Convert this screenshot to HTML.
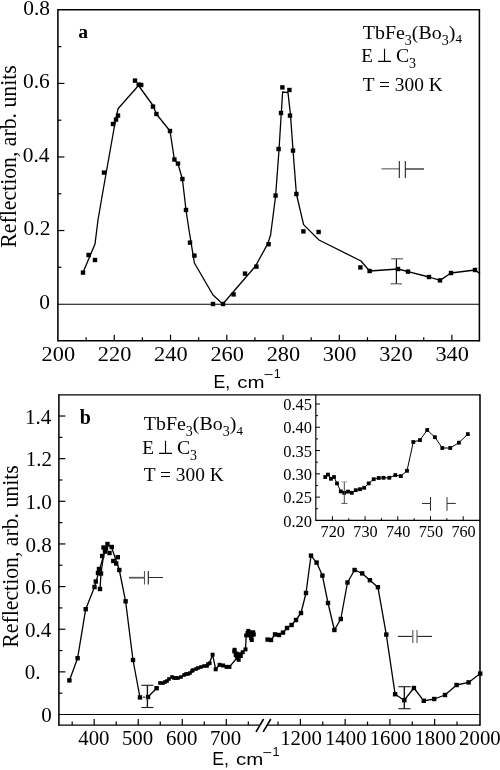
<!DOCTYPE html>
<html><head><meta charset="utf-8"><title>Reflection spectra TbFe3(BO3)4</title>
<style>
html,body{margin:0;padding:0;background:#fff;}
body{width:500px;height:770px;overflow:hidden;}
svg{display:block;}
text{fill:#000;}
</style></head><body>
<svg width="500" height="770" viewBox="0 0 500 770">
<rect x="0" y="0" width="500" height="770" fill="#fff"/>
<line x1="57.90" y1="9.10" x2="57.90" y2="341.40" stroke="#000" stroke-width="1.55"/>
<line x1="479.40" y1="9.10" x2="479.40" y2="341.40" stroke="#000" stroke-width="1.55"/>
<line x1="57.90" y1="9.80" x2="479.40" y2="9.80" stroke="#000" stroke-width="1.4"/>
<line x1="57.90" y1="340.70" x2="479.40" y2="340.70" stroke="#000" stroke-width="1.4"/>
<line x1="57.90" y1="304.30" x2="479.40" y2="304.30" stroke="#000" stroke-width="1.1"/>
<line x1="57.90" y1="267.32" x2="61.40" y2="267.32" stroke="#000" stroke-width="1.2"/>
<line x1="57.90" y1="230.54" x2="64.40" y2="230.54" stroke="#000" stroke-width="1.2"/>
<line x1="57.90" y1="193.76" x2="61.40" y2="193.76" stroke="#000" stroke-width="1.2"/>
<line x1="57.90" y1="156.98" x2="64.40" y2="156.98" stroke="#000" stroke-width="1.2"/>
<line x1="57.90" y1="120.20" x2="61.40" y2="120.20" stroke="#000" stroke-width="1.2"/>
<line x1="57.90" y1="83.42" x2="64.40" y2="83.42" stroke="#000" stroke-width="1.2"/>
<line x1="57.90" y1="46.64" x2="61.40" y2="46.64" stroke="#000" stroke-width="1.2"/>
<line x1="86.13" y1="340.70" x2="86.13" y2="337.20" stroke="#000" stroke-width="1.2"/>
<line x1="114.27" y1="340.70" x2="114.27" y2="334.70" stroke="#000" stroke-width="1.2"/>
<line x1="142.40" y1="340.70" x2="142.40" y2="337.20" stroke="#000" stroke-width="1.2"/>
<line x1="170.53" y1="340.70" x2="170.53" y2="334.70" stroke="#000" stroke-width="1.2"/>
<line x1="198.66" y1="340.70" x2="198.66" y2="337.20" stroke="#000" stroke-width="1.2"/>
<line x1="226.80" y1="340.70" x2="226.80" y2="334.70" stroke="#000" stroke-width="1.2"/>
<line x1="254.93" y1="340.70" x2="254.93" y2="337.20" stroke="#000" stroke-width="1.2"/>
<line x1="283.06" y1="340.70" x2="283.06" y2="334.70" stroke="#000" stroke-width="1.2"/>
<line x1="311.20" y1="340.70" x2="311.20" y2="337.20" stroke="#000" stroke-width="1.2"/>
<line x1="339.33" y1="340.70" x2="339.33" y2="334.70" stroke="#000" stroke-width="1.2"/>
<line x1="367.46" y1="340.70" x2="367.46" y2="337.20" stroke="#000" stroke-width="1.2"/>
<line x1="395.60" y1="340.70" x2="395.60" y2="334.70" stroke="#000" stroke-width="1.2"/>
<line x1="423.73" y1="340.70" x2="423.73" y2="337.20" stroke="#000" stroke-width="1.2"/>
<line x1="451.86" y1="340.70" x2="451.86" y2="334.70" stroke="#000" stroke-width="1.2"/>
<text transform="translate(23.20,14.76) scale(0.9750,1)" font-size="22.0" font-family='"Liberation Serif", serif' >0.8</text>
<text transform="translate(23.03,88.32) scale(0.9750,1)" font-size="22.0" font-family='"Liberation Serif", serif' >0.6</text>
<text transform="translate(22.72,161.88) scale(0.9750,1)" font-size="22.0" font-family='"Liberation Serif", serif' >0.4</text>
<text transform="translate(23.57,235.44) scale(0.9750,1)" font-size="22.0" font-family='"Liberation Serif", serif' >0.2</text>
<text transform="translate(39.29,308.60) scale(0.9750,1)" font-size="22.0" font-family='"Liberation Serif", serif' >0</text>
<text transform="translate(41.58,360.90) scale(1.0200,1)" font-size="21.9" font-family='"Liberation Serif", serif' >200</text>
<text transform="translate(97.85,360.90) scale(1.0200,1)" font-size="21.9" font-family='"Liberation Serif", serif' >220</text>
<text transform="translate(154.11,360.90) scale(1.0200,1)" font-size="21.9" font-family='"Liberation Serif", serif' >240</text>
<text transform="translate(210.38,360.90) scale(1.0200,1)" font-size="21.9" font-family='"Liberation Serif", serif' >260</text>
<text transform="translate(266.65,360.90) scale(1.0200,1)" font-size="21.9" font-family='"Liberation Serif", serif' >280</text>
<text transform="translate(322.87,360.90) scale(1.0200,1)" font-size="21.9" font-family='"Liberation Serif", serif' >300</text>
<text transform="translate(379.13,360.90) scale(1.0200,1)" font-size="21.9" font-family='"Liberation Serif", serif' >320</text>
<text transform="translate(435.40,360.90) scale(1.0200,1)" font-size="21.9" font-family='"Liberation Serif", serif' >340</text>
<text transform="translate(78.37,38.20) scale(1.0000,1)" font-size="19.6" font-family='"Liberation Serif", serif'  font-weight="bold">a</text>
<text transform="translate(362.84,38.70) scale(1.1000,1)" font-size="18.1" font-family='"Liberation Serif", serif' >TbFe</text>
<text transform="translate(404.87,44.80) scale(1.0000,1)" font-size="14.0" font-family='"Liberation Serif", serif' >3</text>
<text transform="translate(411.87,38.70) scale(1.1000,1)" font-size="18.1" font-family='"Liberation Serif", serif' >(Bo</text>
<text transform="translate(441.73,44.80) scale(1.0000,1)" font-size="14.0" font-family='"Liberation Serif", serif' >3</text>
<text transform="translate(448.73,38.70) scale(1.1000,1)" font-size="18.1" font-family='"Liberation Serif", serif' >)</text>
<text transform="translate(455.56,43.40) scale(1.0000,1)" font-size="13.0" font-family='"Liberation Serif", serif' >4</text>
<text transform="translate(361.35,62.35) scale(1.0588,1)" font-size="18.1" font-family='"Liberation Serif", serif' >E</text>
<text transform="translate(376.43,62.35) scale(0.9697,1)" font-size="19" font-family='"Liberation Serif", "DejaVu Sans", serif' >⊥</text>
<text transform="translate(395.89,62.35) scale(1.0937,1)" font-size="18.1" font-family='"Liberation Serif", serif' >C</text>
<text transform="translate(408.89,68.45) scale(1.0000,1)" font-size="14.0" font-family='"Liberation Serif", serif' >3</text>
<text transform="translate(362.65,90.80) scale(1.0731,1)" font-size="18.1" font-family='"Liberation Serif", serif' >T = 300 K</text>
<text transform="translate(15.9,247.7) rotate(-90) scale(0.972,1)" font-size="22.4" font-family='"Liberation Serif", serif'>Reflection, arb. units</text>
<text transform="translate(213.50,387.70) scale(1.0000,1)" font-size="17.7" font-family='"Liberation Sans", sans-serif' >E,</text>
<text transform="translate(237.33,387.70) scale(1.1756,1)" font-size="17.4" font-family='"Liberation Sans", sans-serif' >cm</text>
<text transform="translate(263.49,379.10) scale(1.2987,1)" font-size="12.6" font-family='"Liberation Sans", sans-serif' >−</text>
<text transform="translate(273.84,378.40) scale(1.0000,1)" font-size="12.6" font-family='"Liberation Sans", sans-serif' >1</text>
<polyline fill="none" stroke="#000" stroke-width="1.3" stroke-linejoin="round" points="83.0,272.6 95.0,244.0 98.0,220.0 101.4,200.0 114.2,127.5 117.2,112.8 118.0,108.8 138.5,85.5 153.0,105.5 156.4,114.0 170.0,131.0 174.4,159.5 178.0,164.0 182.4,179.0 186.0,210.0 189.0,230.0 194.4,263.0 213.0,295.0 222.8,304.0 255.4,266.3 267.8,243.6 270.6,235.0 275.6,196.0 279.0,150.0 282.6,92.0 288.0,92.6 290.5,115.0 293.0,150.0 296.4,194.0 303.6,224.6 319.0,240.0 361.0,261.0 369.6,271.0 398.0,269.0 408.0,271.6 429.0,277.0 440.0,280.4 451.0,273.0 475.0,270.0 480.0,273.6"/>
<rect x="80.80" y="270.40" width="4.4" height="4.4" fill="#000"/>
<rect x="86.40" y="252.80" width="4.4" height="4.4" fill="#000"/>
<rect x="92.80" y="257.80" width="4.4" height="4.4" fill="#000"/>
<rect x="101.80" y="170.40" width="4.4" height="4.4" fill="#000"/>
<rect x="110.80" y="121.80" width="4.4" height="4.4" fill="#000"/>
<rect x="113.80" y="117.40" width="4.4" height="4.4" fill="#000"/>
<rect x="115.80" y="113.40" width="4.4" height="4.4" fill="#000"/>
<rect x="132.80" y="78.40" width="4.4" height="4.4" fill="#000"/>
<rect x="136.50" y="82.40" width="4.4" height="4.4" fill="#000"/>
<rect x="139.00" y="82.80" width="4.4" height="4.4" fill="#000"/>
<rect x="150.80" y="104.40" width="4.4" height="4.4" fill="#000"/>
<rect x="154.20" y="111.80" width="4.4" height="4.4" fill="#000"/>
<rect x="167.80" y="128.80" width="4.4" height="4.4" fill="#000"/>
<rect x="172.20" y="157.30" width="4.4" height="4.4" fill="#000"/>
<rect x="175.80" y="161.40" width="4.4" height="4.4" fill="#000"/>
<rect x="180.20" y="176.80" width="4.4" height="4.4" fill="#000"/>
<rect x="183.80" y="207.80" width="4.4" height="4.4" fill="#000"/>
<rect x="187.80" y="240.40" width="4.4" height="4.4" fill="#000"/>
<rect x="192.20" y="253.40" width="4.4" height="4.4" fill="#000"/>
<rect x="210.80" y="301.80" width="4.4" height="4.4" fill="#000"/>
<rect x="220.80" y="301.80" width="4.4" height="4.4" fill="#000"/>
<rect x="231.40" y="292.20" width="4.4" height="4.4" fill="#000"/>
<rect x="242.80" y="271.40" width="4.4" height="4.4" fill="#000"/>
<rect x="254.20" y="264.40" width="4.4" height="4.4" fill="#000"/>
<rect x="266.40" y="242.00" width="4.4" height="4.4" fill="#000"/>
<rect x="273.40" y="193.40" width="4.4" height="4.4" fill="#000"/>
<rect x="276.40" y="146.80" width="4.4" height="4.4" fill="#000"/>
<rect x="278.80" y="110.80" width="4.4" height="4.4" fill="#000"/>
<rect x="280.20" y="85.20" width="4.4" height="4.4" fill="#000"/>
<rect x="287.20" y="87.80" width="4.4" height="4.4" fill="#000"/>
<rect x="287.80" y="113.40" width="4.4" height="4.4" fill="#000"/>
<rect x="290.80" y="148.40" width="4.4" height="4.4" fill="#000"/>
<rect x="294.20" y="191.80" width="4.4" height="4.4" fill="#000"/>
<rect x="301.20" y="229.20" width="4.4" height="4.4" fill="#000"/>
<rect x="316.40" y="229.80" width="4.4" height="4.4" fill="#000"/>
<rect x="358.20" y="265.20" width="4.4" height="4.4" fill="#000"/>
<rect x="367.40" y="268.80" width="4.4" height="4.4" fill="#000"/>
<rect x="395.80" y="266.80" width="4.4" height="4.4" fill="#000"/>
<rect x="405.80" y="269.40" width="4.4" height="4.4" fill="#000"/>
<rect x="426.80" y="274.80" width="4.4" height="4.4" fill="#000"/>
<rect x="437.80" y="278.20" width="4.4" height="4.4" fill="#000"/>
<rect x="448.80" y="270.80" width="4.4" height="4.4" fill="#000"/>
<rect x="472.80" y="267.80" width="4.4" height="4.4" fill="#000"/>
<line x1="396.40" y1="258.80" x2="396.40" y2="283.80" stroke="#111" stroke-width="1.2"/>
<line x1="391.20" y1="258.80" x2="403.00" y2="258.80" stroke="#555" stroke-width="1.1"/>
<line x1="390.50" y1="283.80" x2="402.00" y2="283.80" stroke="#555" stroke-width="1.1"/>
<line x1="381.50" y1="168.80" x2="399.30" y2="168.80" stroke="#858585" stroke-width="1.5"/>
<line x1="405.30" y1="169.00" x2="424.00" y2="169.00" stroke="#505050" stroke-width="1.6"/>
<line x1="399.30" y1="161.00" x2="399.30" y2="178.00" stroke="#111" stroke-width="1.0"/>
<line x1="405.30" y1="161.00" x2="405.30" y2="178.00" stroke="#111" stroke-width="1.0"/>
<line x1="58.90" y1="394.20" x2="58.90" y2="725.80" stroke="#000" stroke-width="1.55"/>
<line x1="480.00" y1="394.20" x2="480.00" y2="725.80" stroke="#000" stroke-width="1.55"/>
<line x1="58.90" y1="394.90" x2="480.00" y2="394.90" stroke="#000" stroke-width="1.4"/>
<line x1="58.90" y1="725.10" x2="480.00" y2="725.10" stroke="#000" stroke-width="1.4"/>
<line x1="58.90" y1="714.45" x2="480.00" y2="714.45" stroke="#000" stroke-width="1.1"/>
<line x1="58.90" y1="693.18" x2="62.40" y2="693.18" stroke="#000" stroke-width="1.2"/>
<line x1="58.90" y1="671.86" x2="65.40" y2="671.86" stroke="#000" stroke-width="1.2"/>
<line x1="58.90" y1="650.54" x2="62.40" y2="650.54" stroke="#000" stroke-width="1.2"/>
<line x1="58.90" y1="629.22" x2="65.40" y2="629.22" stroke="#000" stroke-width="1.2"/>
<line x1="58.90" y1="607.90" x2="62.40" y2="607.90" stroke="#000" stroke-width="1.2"/>
<line x1="58.90" y1="586.58" x2="65.40" y2="586.58" stroke="#000" stroke-width="1.2"/>
<line x1="58.90" y1="565.26" x2="62.40" y2="565.26" stroke="#000" stroke-width="1.2"/>
<line x1="58.90" y1="543.94" x2="65.40" y2="543.94" stroke="#000" stroke-width="1.2"/>
<line x1="58.90" y1="522.62" x2="62.40" y2="522.62" stroke="#000" stroke-width="1.2"/>
<line x1="58.90" y1="501.30" x2="65.40" y2="501.30" stroke="#000" stroke-width="1.2"/>
<line x1="58.90" y1="479.98" x2="62.40" y2="479.98" stroke="#000" stroke-width="1.2"/>
<line x1="58.90" y1="458.66" x2="65.40" y2="458.66" stroke="#000" stroke-width="1.2"/>
<line x1="58.90" y1="437.34" x2="62.40" y2="437.34" stroke="#000" stroke-width="1.2"/>
<line x1="58.90" y1="416.02" x2="65.40" y2="416.02" stroke="#000" stroke-width="1.2"/>
<text transform="translate(25.02,423.62) scale(1.0120,1)" font-size="20.8" font-family='"Liberation Serif", serif' >1.4</text>
<text transform="translate(25.85,466.26) scale(1.0120,1)" font-size="20.8" font-family='"Liberation Serif", serif' >1.2</text>
<text transform="translate(25.49,508.90) scale(1.0120,1)" font-size="20.8" font-family='"Liberation Serif", serif' >1.0</text>
<text transform="translate(25.49,551.54) scale(1.0120,1)" font-size="20.8" font-family='"Liberation Serif", serif' >0.8</text>
<text transform="translate(25.31,594.18) scale(1.0120,1)" font-size="20.8" font-family='"Liberation Serif", serif' >0.6</text>
<text transform="translate(25.02,636.82) scale(1.0120,1)" font-size="20.8" font-family='"Liberation Serif", serif' >0.4</text>
<text transform="translate(24.70,679.46) scale(1.0120,1)" font-size="20.8" font-family='"Liberation Serif", serif' >0.</text>
<text transform="translate(41.28,722.20) scale(1.0120,1)" font-size="20.8" font-family='"Liberation Serif", serif' >0</text>
<line x1="72.19" y1="725.10" x2="72.19" y2="721.60" stroke="#000" stroke-width="1.2"/>
<line x1="94.20" y1="725.10" x2="94.20" y2="719.10" stroke="#000" stroke-width="1.2"/>
<line x1="116.22" y1="725.10" x2="116.22" y2="721.60" stroke="#000" stroke-width="1.2"/>
<line x1="138.23" y1="725.10" x2="138.23" y2="719.10" stroke="#000" stroke-width="1.2"/>
<line x1="160.25" y1="725.10" x2="160.25" y2="721.60" stroke="#000" stroke-width="1.2"/>
<line x1="182.26" y1="725.10" x2="182.26" y2="719.10" stroke="#000" stroke-width="1.2"/>
<line x1="204.28" y1="725.10" x2="204.28" y2="721.60" stroke="#000" stroke-width="1.2"/>
<line x1="226.29" y1="725.10" x2="226.29" y2="719.10" stroke="#000" stroke-width="1.2"/>
<line x1="248.31" y1="725.10" x2="248.31" y2="721.60" stroke="#000" stroke-width="1.2"/>
<line x1="278.02" y1="725.10" x2="278.02" y2="721.60" stroke="#000" stroke-width="1.2"/>
<line x1="300.40" y1="725.10" x2="300.40" y2="719.10" stroke="#000" stroke-width="1.2"/>
<line x1="322.77" y1="725.10" x2="322.77" y2="721.60" stroke="#000" stroke-width="1.2"/>
<line x1="345.15" y1="725.10" x2="345.15" y2="719.10" stroke="#000" stroke-width="1.2"/>
<line x1="367.52" y1="725.10" x2="367.52" y2="721.60" stroke="#000" stroke-width="1.2"/>
<line x1="389.90" y1="725.10" x2="389.90" y2="719.10" stroke="#000" stroke-width="1.2"/>
<line x1="412.27" y1="725.10" x2="412.27" y2="721.60" stroke="#000" stroke-width="1.2"/>
<line x1="434.65" y1="725.10" x2="434.65" y2="719.10" stroke="#000" stroke-width="1.2"/>
<line x1="457.02" y1="725.10" x2="457.02" y2="721.60" stroke="#000" stroke-width="1.2"/>
<text transform="translate(78.29,745.40) scale(1.0300,1)" font-size="20.2" font-family='"Liberation Serif", serif' >400</text>
<text transform="translate(121.92,745.40) scale(1.0300,1)" font-size="20.2" font-family='"Liberation Serif", serif' >500</text>
<text transform="translate(166.10,745.40) scale(1.0300,1)" font-size="20.2" font-family='"Liberation Serif", serif' >600</text>
<text transform="translate(209.90,745.40) scale(1.0300,1)" font-size="20.2" font-family='"Liberation Serif", serif' >700</text>
<text transform="translate(280.18,745.40) scale(1.0300,1)" font-size="20.2" font-family='"Liberation Serif", serif' >1200</text>
<text transform="translate(324.93,745.40) scale(1.0300,1)" font-size="20.2" font-family='"Liberation Serif", serif' >1400</text>
<text transform="translate(369.68,745.40) scale(1.0300,1)" font-size="20.2" font-family='"Liberation Serif", serif' >1600</text>
<text transform="translate(414.43,745.40) scale(1.0300,1)" font-size="20.2" font-family='"Liberation Serif", serif' >1800</text>
<text transform="translate(459.09,745.40) scale(1.0300,1)" font-size="20.2" font-family='"Liberation Serif", serif' >2000</text>
<rect x="259.6" y="722" width="8.2" height="5" fill="#fff"/>
<line x1="256.00" y1="731.80" x2="263.60" y2="719.00" stroke="#000" stroke-width="1.6"/>
<line x1="263.20" y1="731.80" x2="270.80" y2="719.00" stroke="#000" stroke-width="1.6"/>
<text transform="translate(79.65,423.70) scale(0.9428,1)" font-size="21.3" font-family='"Liberation Serif", serif'  font-weight="bold">b</text>
<text transform="translate(143.84,429.80) scale(1.1000,1)" font-size="18.1" font-family='"Liberation Serif", serif' >TbFe</text>
<text transform="translate(185.87,435.90) scale(1.0000,1)" font-size="14.0" font-family='"Liberation Serif", serif' >3</text>
<text transform="translate(192.87,429.80) scale(1.1000,1)" font-size="18.1" font-family='"Liberation Serif", serif' >(Bo</text>
<text transform="translate(222.73,435.90) scale(1.0000,1)" font-size="14.0" font-family='"Liberation Serif", serif' >3</text>
<text transform="translate(229.73,429.80) scale(1.1000,1)" font-size="18.1" font-family='"Liberation Serif", serif' >)</text>
<text transform="translate(236.56,434.50) scale(1.0000,1)" font-size="13.0" font-family='"Liberation Serif", serif' >4</text>
<text transform="translate(142.35,453.60) scale(1.0588,1)" font-size="18.1" font-family='"Liberation Serif", serif' >E</text>
<text transform="translate(157.43,453.60) scale(0.9697,1)" font-size="19" font-family='"Liberation Serif", "DejaVu Sans", serif' >⊥</text>
<text transform="translate(176.89,453.60) scale(1.0937,1)" font-size="18.1" font-family='"Liberation Serif", serif' >C</text>
<text transform="translate(189.89,459.70) scale(1.0000,1)" font-size="14.0" font-family='"Liberation Serif", serif' >3</text>
<text transform="translate(143.65,480.80) scale(1.0731,1)" font-size="18.1" font-family='"Liberation Serif", serif' >T = 300 K</text>
<text transform="translate(17.7,647.7) rotate(-90) scale(0.972,1)" font-size="22.4" font-family='"Liberation Serif", serif'>Reflection, arb. units</text>
<text transform="translate(212.25,765.40) scale(1.0000,1)" font-size="17.7" font-family='"Liberation Sans", sans-serif' >E,</text>
<text transform="translate(236.08,765.40) scale(1.1756,1)" font-size="17.4" font-family='"Liberation Sans", sans-serif' >cm</text>
<text transform="translate(262.24,756.80) scale(1.2987,1)" font-size="12.6" font-family='"Liberation Sans", sans-serif' >−</text>
<text transform="translate(272.59,756.10) scale(1.0000,1)" font-size="12.6" font-family='"Liberation Sans", sans-serif' >1</text>
<polyline fill="none" stroke="#000" stroke-width="1.3" stroke-linejoin="round" points="69.4,680.4 77.6,658.2 85.7,609.2 94.5,587.0 103.5,556.0 107.5,545.0 111.8,548.0 119.3,570.0 125.6,601.3 133.0,660.0 139.6,695.5"/>
<polyline fill="none" stroke="#000" stroke-width="1.3" stroke-linejoin="round" points="148.0,697.0 156.6,688.2"/>
<rect x="143.20" y="696.40" width="1.6" height="1.6" fill="#333"/>
<polyline fill="none" stroke="#000" stroke-width="1.3" stroke-linejoin="round" points="100.0,589.0 101.0,573.5 103.5,556.0"/>
<rect x="67.20" y="678.20" width="4.4" height="4.4" fill="#000"/>
<rect x="75.40" y="656.00" width="4.4" height="4.4" fill="#000"/>
<rect x="83.50" y="607.00" width="4.4" height="4.4" fill="#000"/>
<rect x="92.30" y="584.80" width="4.4" height="4.4" fill="#000"/>
<rect x="97.80" y="586.80" width="4.4" height="4.4" fill="#000"/>
<rect x="93.60" y="579.30" width="4.4" height="4.4" fill="#000"/>
<rect x="95.80" y="570.80" width="4.4" height="4.4" fill="#000"/>
<rect x="98.80" y="571.30" width="4.4" height="4.4" fill="#000"/>
<rect x="96.80" y="566.80" width="4.4" height="4.4" fill="#000"/>
<rect x="100.00" y="553.80" width="4.4" height="4.4" fill="#000"/>
<rect x="101.30" y="545.30" width="4.4" height="4.4" fill="#000"/>
<rect x="105.30" y="541.80" width="4.4" height="4.4" fill="#000"/>
<rect x="109.60" y="544.80" width="4.4" height="4.4" fill="#000"/>
<rect x="103.80" y="546.30" width="4.4" height="4.4" fill="#000"/>
<rect x="102.80" y="549.30" width="4.4" height="4.4" fill="#000"/>
<rect x="107.30" y="550.80" width="4.4" height="4.4" fill="#000"/>
<rect x="115.60" y="555.00" width="4.4" height="4.4" fill="#000"/>
<rect x="111.10" y="558.80" width="4.4" height="4.4" fill="#000"/>
<rect x="114.00" y="561.30" width="4.4" height="4.4" fill="#000"/>
<rect x="117.10" y="567.80" width="4.4" height="4.4" fill="#000"/>
<rect x="123.40" y="599.10" width="4.4" height="4.4" fill="#000"/>
<rect x="130.80" y="657.80" width="4.4" height="4.4" fill="#000"/>
<rect x="137.80" y="695.20" width="4.4" height="4.4" fill="#000"/>
<rect x="145.80" y="694.80" width="4.4" height="4.4" fill="#000"/>
<rect x="154.40" y="686.00" width="4.4" height="4.4" fill="#000"/>
<rect x="158.20" y="681.20" width="3.6" height="3.6" fill="#000"/>
<rect x="161.20" y="681.20" width="3.6" height="3.6" fill="#000"/>
<rect x="163.20" y="680.20" width="3.6" height="3.6" fill="#000"/>
<rect x="165.20" y="679.20" width="3.6" height="3.6" fill="#000"/>
<rect x="167.20" y="677.20" width="3.6" height="3.6" fill="#000"/>
<rect x="170.20" y="675.20" width="3.6" height="3.6" fill="#000"/>
<rect x="172.20" y="676.20" width="3.6" height="3.6" fill="#000"/>
<rect x="174.20" y="676.20" width="3.6" height="3.6" fill="#000"/>
<rect x="176.20" y="676.20" width="3.6" height="3.6" fill="#000"/>
<rect x="179.20" y="675.20" width="3.6" height="3.6" fill="#000"/>
<rect x="182.20" y="673.20" width="3.6" height="3.6" fill="#000"/>
<rect x="184.20" y="672.20" width="3.6" height="3.6" fill="#000"/>
<rect x="186.20" y="672.20" width="3.6" height="3.6" fill="#000"/>
<rect x="188.20" y="671.20" width="3.6" height="3.6" fill="#000"/>
<rect x="190.20" y="669.20" width="3.6" height="3.6" fill="#000"/>
<rect x="191.20" y="668.20" width="3.6" height="3.6" fill="#000"/>
<rect x="194.20" y="667.20" width="3.6" height="3.6" fill="#000"/>
<rect x="196.20" y="666.20" width="3.6" height="3.6" fill="#000"/>
<rect x="199.20" y="665.20" width="3.6" height="3.6" fill="#000"/>
<rect x="202.20" y="664.20" width="3.6" height="3.6" fill="#000"/>
<rect x="205.20" y="664.20" width="3.6" height="3.6" fill="#000"/>
<rect x="206.20" y="662.20" width="3.6" height="3.6" fill="#000"/>
<rect x="208.00" y="661.40" width="3.6" height="3.6" fill="#000"/>
<polyline fill="none" stroke="#000" stroke-width="1.3" stroke-linejoin="round" points="209.5,663.0 212.6,654.7 215.7,669.3 219.6,664.8 229.4,666.9 236.5,658.5 245.5,649.4 246.2,635.4 248.3,630.9"/>
<rect x="210.60" y="652.70" width="4.0" height="4.0" fill="#000"/>
<rect x="213.70" y="667.30" width="4.0" height="4.0" fill="#000"/>
<rect x="217.60" y="662.80" width="4.0" height="4.0" fill="#000"/>
<rect x="221.10" y="663.50" width="4.0" height="4.0" fill="#000"/>
<rect x="224.60" y="664.90" width="4.0" height="4.0" fill="#000"/>
<rect x="227.40" y="664.90" width="4.0" height="4.0" fill="#000"/>
<rect x="232.30" y="649.50" width="4.0" height="4.0" fill="#000"/>
<rect x="233.70" y="653.00" width="4.0" height="4.0" fill="#000"/>
<rect x="235.80" y="655.80" width="4.0" height="4.0" fill="#000"/>
<rect x="237.90" y="652.30" width="4.0" height="4.0" fill="#000"/>
<rect x="240.70" y="650.20" width="4.0" height="4.0" fill="#000"/>
<rect x="243.50" y="647.40" width="4.0" height="4.0" fill="#000"/>
<rect x="244.20" y="633.40" width="4.0" height="4.0" fill="#000"/>
<rect x="246.30" y="628.90" width="4.0" height="4.0" fill="#000"/>
<rect x="251.20" y="630.30" width="4.0" height="4.0" fill="#000"/>
<rect x="249.10" y="636.20" width="4.0" height="4.0" fill="#000"/>
<rect x="247.70" y="633.40" width="4.0" height="4.0" fill="#000"/>
<rect x="234.50" y="651.50" width="4.0" height="4.0" fill="#000"/>
<rect x="236.70" y="657.80" width="4.0" height="4.0" fill="#000"/>
<rect x="234.80" y="654.50" width="4.0" height="4.0" fill="#000"/>
<rect x="238.80" y="654.00" width="4.0" height="4.0" fill="#000"/>
<rect x="232.60" y="647.80" width="4.0" height="4.0" fill="#000"/>
<rect x="245.50" y="631.00" width="4.0" height="4.0" fill="#000"/>
<rect x="250.30" y="633.30" width="4.0" height="4.0" fill="#000"/>
<rect x="248.30" y="630.30" width="4.0" height="4.0" fill="#000"/>
<rect x="249.80" y="638.00" width="4.0" height="4.0" fill="#000"/>
<rect x="251.80" y="632.50" width="4.0" height="4.0" fill="#000"/>
<polyline fill="none" stroke="#000" stroke-width="1.3" stroke-linejoin="round" points="267.6,639.6 271.0,640.0 275.0,634.4 279.0,635.0 283.0,632.6 287.0,628.0 291.6,625.0 296.0,620.0 301.0,613.0 306.0,593.0 311.0,555.6 316.6,562.6 322.4,575.6 328.0,603.0 334.4,630.0 340.8,619.0 347.5,582.5 354.6,570.0 362.2,573.4 369.9,580.2 377.9,587.2 386.3,634.6 395.1,694.2 404.3,700.2 413.9,688.0 423.8,700.8 434.2,699.0 445.0,695.0 456.6,685.0 468.6,682.4 480.2,673.6"/>
<rect x="265.40" y="637.40" width="4.4" height="4.4" fill="#000"/>
<rect x="268.80" y="637.80" width="4.4" height="4.4" fill="#000"/>
<rect x="272.80" y="632.20" width="4.4" height="4.4" fill="#000"/>
<rect x="276.80" y="632.80" width="4.4" height="4.4" fill="#000"/>
<rect x="280.80" y="630.40" width="4.4" height="4.4" fill="#000"/>
<rect x="284.80" y="625.80" width="4.4" height="4.4" fill="#000"/>
<rect x="289.40" y="622.80" width="4.4" height="4.4" fill="#000"/>
<rect x="293.80" y="617.80" width="4.4" height="4.4" fill="#000"/>
<rect x="298.80" y="610.80" width="4.4" height="4.4" fill="#000"/>
<rect x="303.80" y="590.80" width="4.4" height="4.4" fill="#000"/>
<rect x="308.80" y="553.40" width="4.4" height="4.4" fill="#000"/>
<rect x="314.40" y="560.40" width="4.4" height="4.4" fill="#000"/>
<rect x="320.20" y="573.40" width="4.4" height="4.4" fill="#000"/>
<rect x="325.80" y="600.80" width="4.4" height="4.4" fill="#000"/>
<rect x="332.20" y="627.80" width="4.4" height="4.4" fill="#000"/>
<rect x="338.60" y="616.80" width="4.4" height="4.4" fill="#000"/>
<rect x="345.30" y="580.30" width="4.4" height="4.4" fill="#000"/>
<rect x="352.40" y="567.80" width="4.4" height="4.4" fill="#000"/>
<rect x="360.00" y="571.20" width="4.4" height="4.4" fill="#000"/>
<rect x="367.70" y="578.00" width="4.4" height="4.4" fill="#000"/>
<rect x="375.70" y="585.00" width="4.4" height="4.4" fill="#000"/>
<rect x="384.10" y="632.40" width="4.4" height="4.4" fill="#000"/>
<rect x="392.90" y="692.00" width="4.4" height="4.4" fill="#000"/>
<rect x="402.10" y="698.00" width="4.4" height="4.4" fill="#000"/>
<rect x="411.70" y="685.80" width="4.4" height="4.4" fill="#000"/>
<rect x="421.60" y="698.60" width="4.4" height="4.4" fill="#000"/>
<rect x="432.00" y="696.80" width="4.4" height="4.4" fill="#000"/>
<rect x="442.80" y="692.80" width="4.4" height="4.4" fill="#000"/>
<rect x="454.40" y="682.80" width="4.4" height="4.4" fill="#000"/>
<rect x="466.40" y="680.20" width="4.4" height="4.4" fill="#000"/>
<rect x="478.00" y="671.40" width="4.4" height="4.4" fill="#000"/>
<line x1="147.40" y1="685.30" x2="147.40" y2="707.50" stroke="#111" stroke-width="1.35"/>
<line x1="141.40" y1="685.30" x2="153.40" y2="685.30" stroke="#222" stroke-width="1.15"/>
<line x1="141.40" y1="707.50" x2="153.40" y2="707.50" stroke="#222" stroke-width="1.15"/>
<line x1="404.30" y1="686.70" x2="404.30" y2="708.70" stroke="#111" stroke-width="1.35"/>
<line x1="398.40" y1="686.70" x2="410.60" y2="686.70" stroke="#222" stroke-width="1.15"/>
<line x1="398.40" y1="708.70" x2="410.60" y2="708.70" stroke="#222" stroke-width="1.15"/>
<line x1="129.00" y1="577.70" x2="144.50" y2="577.70" stroke="#555" stroke-width="1.7"/>
<line x1="148.30" y1="577.50" x2="163.00" y2="577.50" stroke="#2a2a2a" stroke-width="1.0"/>
<line x1="144.50" y1="571.00" x2="144.50" y2="584.50" stroke="#555" stroke-width="1.1"/>
<line x1="148.30" y1="571.00" x2="148.30" y2="584.50" stroke="#1a1a1a" stroke-width="1.1"/>
<line x1="397.80" y1="636.40" x2="412.80" y2="636.40" stroke="#222" stroke-width="1.1"/>
<line x1="417.00" y1="636.40" x2="432.00" y2="636.40" stroke="#222" stroke-width="1.1"/>
<line x1="412.80" y1="630.00" x2="412.80" y2="643.00" stroke="#707070" stroke-width="1.3"/>
<line x1="417.00" y1="630.00" x2="417.00" y2="643.00" stroke="#707070" stroke-width="1.3"/>
<line x1="315.80" y1="394.90" x2="315.80" y2="520.95" stroke="#000" stroke-width="1.15"/>
<line x1="315.80" y1="520.40" x2="480.00" y2="520.40" stroke="#000" stroke-width="1.15"/>
<line x1="315.80" y1="508.76" x2="318.00" y2="508.76" stroke="#000" stroke-width="1.0"/>
<line x1="315.80" y1="497.12" x2="320.00" y2="497.12" stroke="#000" stroke-width="1.0"/>
<line x1="315.80" y1="485.48" x2="318.00" y2="485.48" stroke="#000" stroke-width="1.0"/>
<line x1="315.80" y1="473.84" x2="320.00" y2="473.84" stroke="#000" stroke-width="1.0"/>
<line x1="315.80" y1="462.20" x2="318.00" y2="462.20" stroke="#000" stroke-width="1.0"/>
<line x1="315.80" y1="450.56" x2="320.00" y2="450.56" stroke="#000" stroke-width="1.0"/>
<line x1="315.80" y1="438.92" x2="318.00" y2="438.92" stroke="#000" stroke-width="1.0"/>
<line x1="315.80" y1="427.28" x2="320.00" y2="427.28" stroke="#000" stroke-width="1.0"/>
<line x1="315.80" y1="415.64" x2="318.00" y2="415.64" stroke="#000" stroke-width="1.0"/>
<line x1="315.80" y1="404.00" x2="320.00" y2="404.00" stroke="#000" stroke-width="1.0"/>
<line x1="332.40" y1="520.40" x2="332.40" y2="516.20" stroke="#000" stroke-width="1.0"/>
<line x1="348.75" y1="520.40" x2="348.75" y2="518.20" stroke="#000" stroke-width="1.0"/>
<line x1="365.10" y1="520.40" x2="365.10" y2="516.20" stroke="#000" stroke-width="1.0"/>
<line x1="381.45" y1="520.40" x2="381.45" y2="518.20" stroke="#000" stroke-width="1.0"/>
<line x1="397.80" y1="520.40" x2="397.80" y2="516.20" stroke="#000" stroke-width="1.0"/>
<line x1="414.15" y1="520.40" x2="414.15" y2="518.20" stroke="#000" stroke-width="1.0"/>
<line x1="430.50" y1="520.40" x2="430.50" y2="516.20" stroke="#000" stroke-width="1.0"/>
<line x1="446.85" y1="520.40" x2="446.85" y2="518.20" stroke="#000" stroke-width="1.0"/>
<line x1="463.20" y1="520.40" x2="463.20" y2="516.20" stroke="#000" stroke-width="1.0"/>
<text transform="translate(283.17,410.10) scale(0.9650,1)" font-size="17.1" font-family='"Liberation Serif", serif' >0.45</text>
<text transform="translate(283.15,433.38) scale(0.9650,1)" font-size="17.1" font-family='"Liberation Serif", serif' >0.40</text>
<text transform="translate(283.17,456.66) scale(0.9650,1)" font-size="17.1" font-family='"Liberation Serif", serif' >0.35</text>
<text transform="translate(283.15,479.94) scale(0.9650,1)" font-size="17.1" font-family='"Liberation Serif", serif' >0.30</text>
<text transform="translate(283.17,503.22) scale(0.9650,1)" font-size="17.1" font-family='"Liberation Serif", serif' >0.25</text>
<text transform="translate(283.15,526.50) scale(0.9650,1)" font-size="17.1" font-family='"Liberation Serif", serif' >0.20</text>
<text transform="translate(320.59,536.60) scale(0.9500,1)" font-size="17.1" font-family='"Liberation Serif", serif' >720</text>
<text transform="translate(353.29,536.60) scale(0.9500,1)" font-size="17.1" font-family='"Liberation Serif", serif' >730</text>
<text transform="translate(385.99,536.60) scale(0.9500,1)" font-size="17.1" font-family='"Liberation Serif", serif' >740</text>
<text transform="translate(418.69,536.60) scale(0.9500,1)" font-size="17.1" font-family='"Liberation Serif", serif' >750</text>
<text transform="translate(451.39,536.60) scale(0.9500,1)" font-size="17.1" font-family='"Liberation Serif", serif' >760</text>
<polyline fill="none" stroke="#000" stroke-width="1.0" stroke-linejoin="round" points="325.2,477.0 328.0,474.6 331.0,478.8 334.0,477.0 337.0,483.4 340.8,491.4 344.2,492.8 348.0,491.6 351.8,492.8 355.8,490.2 360.0,489.2 364.2,487.8 368.7,483.4 373.7,479.2 378.7,478.0 383.5,477.8 389.3,477.8 395.3,475.1 400.8,476.1 407.0,470.8 413.3,442.0 420.0,440.1 427.2,430.0 434.9,437.2 442.3,448.0 450.2,448.0 458.9,442.7 467.8,434.1"/>
<rect x="323.30" y="475.10" width="3.8" height="3.8" fill="#000"/>
<rect x="326.10" y="472.70" width="3.8" height="3.8" fill="#000"/>
<rect x="329.10" y="476.90" width="3.8" height="3.8" fill="#000"/>
<rect x="332.10" y="475.10" width="3.8" height="3.8" fill="#000"/>
<rect x="335.10" y="481.50" width="3.8" height="3.8" fill="#000"/>
<rect x="338.90" y="489.50" width="3.8" height="3.8" fill="#000"/>
<rect x="342.30" y="490.90" width="3.8" height="3.8" fill="#000"/>
<rect x="346.10" y="489.70" width="3.8" height="3.8" fill="#000"/>
<rect x="349.90" y="490.90" width="3.8" height="3.8" fill="#000"/>
<rect x="353.90" y="488.30" width="3.8" height="3.8" fill="#000"/>
<rect x="358.10" y="487.30" width="3.8" height="3.8" fill="#000"/>
<rect x="362.30" y="485.90" width="3.8" height="3.8" fill="#000"/>
<rect x="366.80" y="481.50" width="3.8" height="3.8" fill="#000"/>
<rect x="371.80" y="477.30" width="3.8" height="3.8" fill="#000"/>
<rect x="376.80" y="476.10" width="3.8" height="3.8" fill="#000"/>
<rect x="381.60" y="475.90" width="3.8" height="3.8" fill="#000"/>
<rect x="387.40" y="475.90" width="3.8" height="3.8" fill="#000"/>
<rect x="393.40" y="473.20" width="3.8" height="3.8" fill="#000"/>
<rect x="398.90" y="474.20" width="3.8" height="3.8" fill="#000"/>
<rect x="405.10" y="468.90" width="3.8" height="3.8" fill="#000"/>
<rect x="411.40" y="440.10" width="3.8" height="3.8" fill="#000"/>
<rect x="418.10" y="438.20" width="3.8" height="3.8" fill="#000"/>
<rect x="425.30" y="428.10" width="3.8" height="3.8" fill="#000"/>
<rect x="433.00" y="435.30" width="3.8" height="3.8" fill="#000"/>
<rect x="440.40" y="446.10" width="3.8" height="3.8" fill="#000"/>
<rect x="448.30" y="446.10" width="3.8" height="3.8" fill="#000"/>
<rect x="457.00" y="440.80" width="3.8" height="3.8" fill="#000"/>
<rect x="465.90" y="432.20" width="3.8" height="3.8" fill="#000"/>
<line x1="344.30" y1="481.80" x2="344.30" y2="503.40" stroke="#444" stroke-width="1.0"/>
<line x1="341.40" y1="481.90" x2="347.00" y2="481.90" stroke="#999" stroke-width="1.0"/>
<line x1="341.40" y1="503.40" x2="347.40" y2="503.40" stroke="#555" stroke-width="1.0"/>
<line x1="422.00" y1="503.45" x2="430.50" y2="503.45" stroke="#2a2a2a" stroke-width="1.0"/>
<line x1="430.50" y1="497.00" x2="430.50" y2="510.80" stroke="#2a2a2a" stroke-width="1.0"/>
<line x1="447.00" y1="497.00" x2="447.00" y2="510.80" stroke="#808080" stroke-width="1.6"/>
<line x1="447.00" y1="503.40" x2="455.80" y2="503.40" stroke="#2a2a2a" stroke-width="1.0"/>
</svg>
</body></html>
